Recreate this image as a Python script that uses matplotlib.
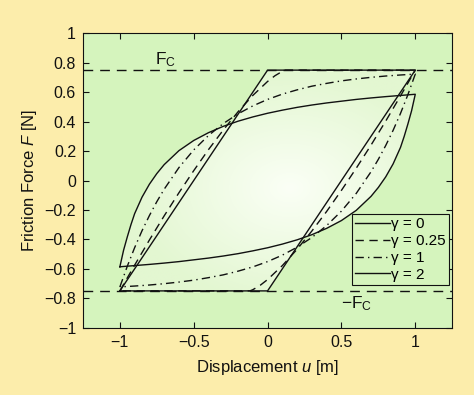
import matplotlib
matplotlib.use("Agg")
import matplotlib.pyplot as plt
import numpy as np
from matplotlib.colors import to_rgb
from matplotlib.patches import Polygon

plt.rcParams["font.family"] = ["Liberation Sans", "DejaVu Sans"]
plt.rcParams["mathtext.fontset"] = "custom"
plt.rcParams["mathtext.rm"] = "Liberation Sans"
plt.rcParams["mathtext.it"] = "Liberation Sans:italic"

# --- data (displacement u [m], friction force F [N]) ---
F_C = 0.75

# gamma = 0 : rising / falling branch
u0_up = [-1.0, 0.0, 1.0]
f0_up = [-0.75, 0.75, 0.75]
u0_dn = [1.0, 0.0, -1.0]
f0_dn = [0.75, -0.75, -0.75]

# gamma = 0.25
u025_up = [-1.0, -0.95, -0.9, -0.8, -0.7, -0.6, -0.5, -0.4, -0.3, -0.2, -0.1,
           0.0, 0.05, 0.1, 0.12, 1.0]
f025_up = [-0.75, -0.662, -0.575, -0.404, -0.240, -0.083, 0.067, 0.210, 0.343,
           0.467, 0.578, 0.673, 0.712, 0.742, 0.75, 0.75]
u025_dn = [1.0, 0.95, 0.9, 0.8, 0.7, 0.6, 0.5, 0.4, 0.3, 0.2, 0.1,
           0.0, -0.05, -0.1, -0.12, -1.0]
f025_dn = [0.75, 0.662, 0.575, 0.404, 0.240, 0.083, -0.067, -0.210, -0.343,
           -0.467, -0.578, -0.673, -0.712, -0.742, -0.75, -0.75]

# gamma = 1
u1_up = [-1.0, -0.95, -0.9, -0.85, -0.8, -0.75, -0.7, -0.6, -0.5, -0.4, -0.3,
         -0.2, -0.1, 0.0, 0.1, 0.2, 0.3, 0.4, 0.5, 0.6, 0.7, 0.8, 0.9, 1.0]
f1_up = [-0.723, -0.583, -0.456, -0.341, -0.238, -0.144, -0.059, 0.088, 0.208,
         0.306, 0.387, 0.453, 0.507, 0.551, 0.587, 0.616, 0.641, 0.660, 0.677,
         0.690, 0.701, 0.710, 0.717, 0.723]
u1_dn = [1.0, 0.95, 0.9, 0.85, 0.8, 0.75, 0.7, 0.6, 0.5, 0.4, 0.3,
         0.2, 0.1, 0.0, -0.1, -0.2, -0.3, -0.4, -0.5, -0.6, -0.7, -0.8, -0.9, -1.0]
f1_dn = [0.723, 0.583, 0.456, 0.341, 0.238, 0.144, 0.059, -0.088, -0.208,
         -0.306, -0.387, -0.453, -0.507, -0.551, -0.587, -0.616, -0.641, -0.660,
         -0.677, -0.690, -0.701, -0.710, -0.717, -0.723]

# gamma = 2
u2_up = [-1.0, -0.975, -0.95, -0.925, -0.9, -0.85, -0.8, -0.75, -0.7, -0.6,
         -0.5, -0.4, -0.3, -0.2, -0.1, 0.0, 0.1, 0.2, 0.3, 0.4, 0.5, 0.6, 0.7,
         0.8, 0.9, 1.0]
f2_up = [-0.586, -0.474, -0.384, -0.300, -0.225, -0.113, -0.025, 0.047, 0.108,
         0.203, 0.272, 0.325, 0.368, 0.403, 0.432, 0.457, 0.478, 0.497, 0.513,
         0.527, 0.539, 0.551, 0.561, 0.570, 0.578, 0.586]
u2_dn = [1.0, 0.975, 0.95, 0.925, 0.9, 0.85, 0.8, 0.75, 0.7, 0.6,
         0.5, 0.4, 0.3, 0.2, 0.1, 0.0, -0.1, -0.2, -0.3, -0.4, -0.5, -0.6, -0.7,
         -0.8, -0.9, -1.0]
f2_dn = [0.586, 0.474, 0.384, 0.300, 0.225, 0.113, 0.025, -0.047, -0.108,
         -0.203, -0.272, -0.325, -0.368, -0.403, -0.432, -0.457, -0.478, -0.497,
         -0.513, -0.527, -0.539, -0.551, -0.561, -0.570, -0.578, -0.586]

labels = ["γ = 0", "γ = 0.25", "γ = 1", "γ = 2"]
x_ticks = [-1, -0.5, 0, 0.5, 1]
y_ticks = [-1, -0.8, -0.6, -0.4, -0.2, 0, 0.2, 0.4, 0.6, 0.8, 1]

# --- palette ---
FIG_BG = "#fcedab"
AX_BG = "#d5f4bd"
INNER_CENTER = "#fbfff6"
INNER_EDGE = "#e3f7d1"
INK = "#111111"


def _loop(u_up, f_up, u_dn, f_dn):
    return np.column_stack([list(u_up) + list(u_dn), list(f_up) + list(f_dn)])


def _fmt(v):
    s = f"{v:g}"
    return s.replace("-", "\u2212")


fig = plt.figure(figsize=(4.74, 3.95), dpi=100, facecolor=FIG_BG)
ax = fig.add_axes([0.175, 0.1704, 0.779, 0.7452])
ax.set_facecolor(AX_BG)

# pale gradient inside the loops
gx, gy = np.meshgrid(np.linspace(-1, 1, 200), np.linspace(-0.75, 0.75, 150))
r = np.clip(np.hypot((gx - 0.15) / 1.1, (gy + 0.05) / 0.8), 0, 1)
c0, c1 = np.array(to_rgb(INNER_CENTER)), np.array(to_rgb(INNER_EDGE))
grad = c0[None, None, :] * (1 - r[..., None]) + c1[None, None, :] * r[..., None]
for verts in (_loop(u0_up, f0_up, u0_dn, f0_dn), _loop(u2_up, f2_up, u2_dn, f2_dn)):
    patch = Polygon(verts, closed=True, facecolor="none", edgecolor="none")
    ax.add_patch(patch)
    im = ax.imshow(grad, extent=(-1, 1, -0.75, 0.75), origin="lower",
                   aspect="auto", interpolation="bilinear", zorder=1)
    im.set_clip_path(patch)

# Coulomb level lines
for level in (F_C, -F_C):
    ax.axhline(level, color=INK, lw=1.0, dashes=(7, 5), zorder=2)

lw = 1.0
styles = [dict(ls="-"), dict(dashes=(6, 4)), dict(dashes=(6, 3, 1, 3)), dict(ls="-")]
series = [
    (u0_up, f0_up, u0_dn, f0_dn),
    (u025_up, f025_up, u025_dn, f025_dn),
    (u1_up, f1_up, u1_dn, f1_dn),
    (u2_up, f2_up, u2_dn, f2_dn),
]
handles = []
for (uu, fu, ud, fd), st, lab in zip(series, styles, labels):
    verts = _loop(uu, fu, ud, fd)
    h, = ax.plot(verts[:, 0], verts[:, 1], color=INK, lw=lw, label=lab, zorder=3,
                 solid_joinstyle="round", **st)
    handles.append(h)

ax.text(-0.76, 0.82, r"$\mathrm{F_C}$", fontsize=12.5, color=INK, ha="left", va="center")
ax.text(0.5, -0.84, r"$\mathrm{-F_C}$", fontsize=12.5, color=INK, ha="left", va="center")

ax.set_xlim(-1.25, 1.25)
ax.set_ylim(-1, 1)
ax.set_xticks(x_ticks)
ax.set_yticks(y_ticks)
ax.set_xticklabels([_fmt(v) for v in x_ticks])
ax.set_yticklabels([_fmt(v) for v in y_ticks])
ax.tick_params(direction="in", top=True, right=True, length=4, width=0.8,
               labelsize=11.5, colors=INK, pad=5)
for sp in ax.spines.values():
    sp.set_color(INK)
    sp.set_linewidth(0.8)

ax.set_xlabel(r"Displacement $u$ [m]", fontsize=12, color=INK, labelpad=6)
ax.set_ylabel(r"Friction Force $F$ [N]", fontsize=12, color=INK, labelpad=4)

leg = ax.legend(handles=handles, loc="upper left", bbox_to_anchor=(0.728, 0.385),
                borderaxespad=0, fontsize=11, handlelength=2.3, handletextpad=0.1,
                labelspacing=0.18, borderpad=0.2, fancybox=False, framealpha=1,
                facecolor=AX_BG, edgecolor=INK)
leg.get_frame().set_linewidth(0.8)
leg.set_zorder(5)

fig.savefig("out.png", dpi=100, facecolor=FIG_BG)
plt.close(fig)
